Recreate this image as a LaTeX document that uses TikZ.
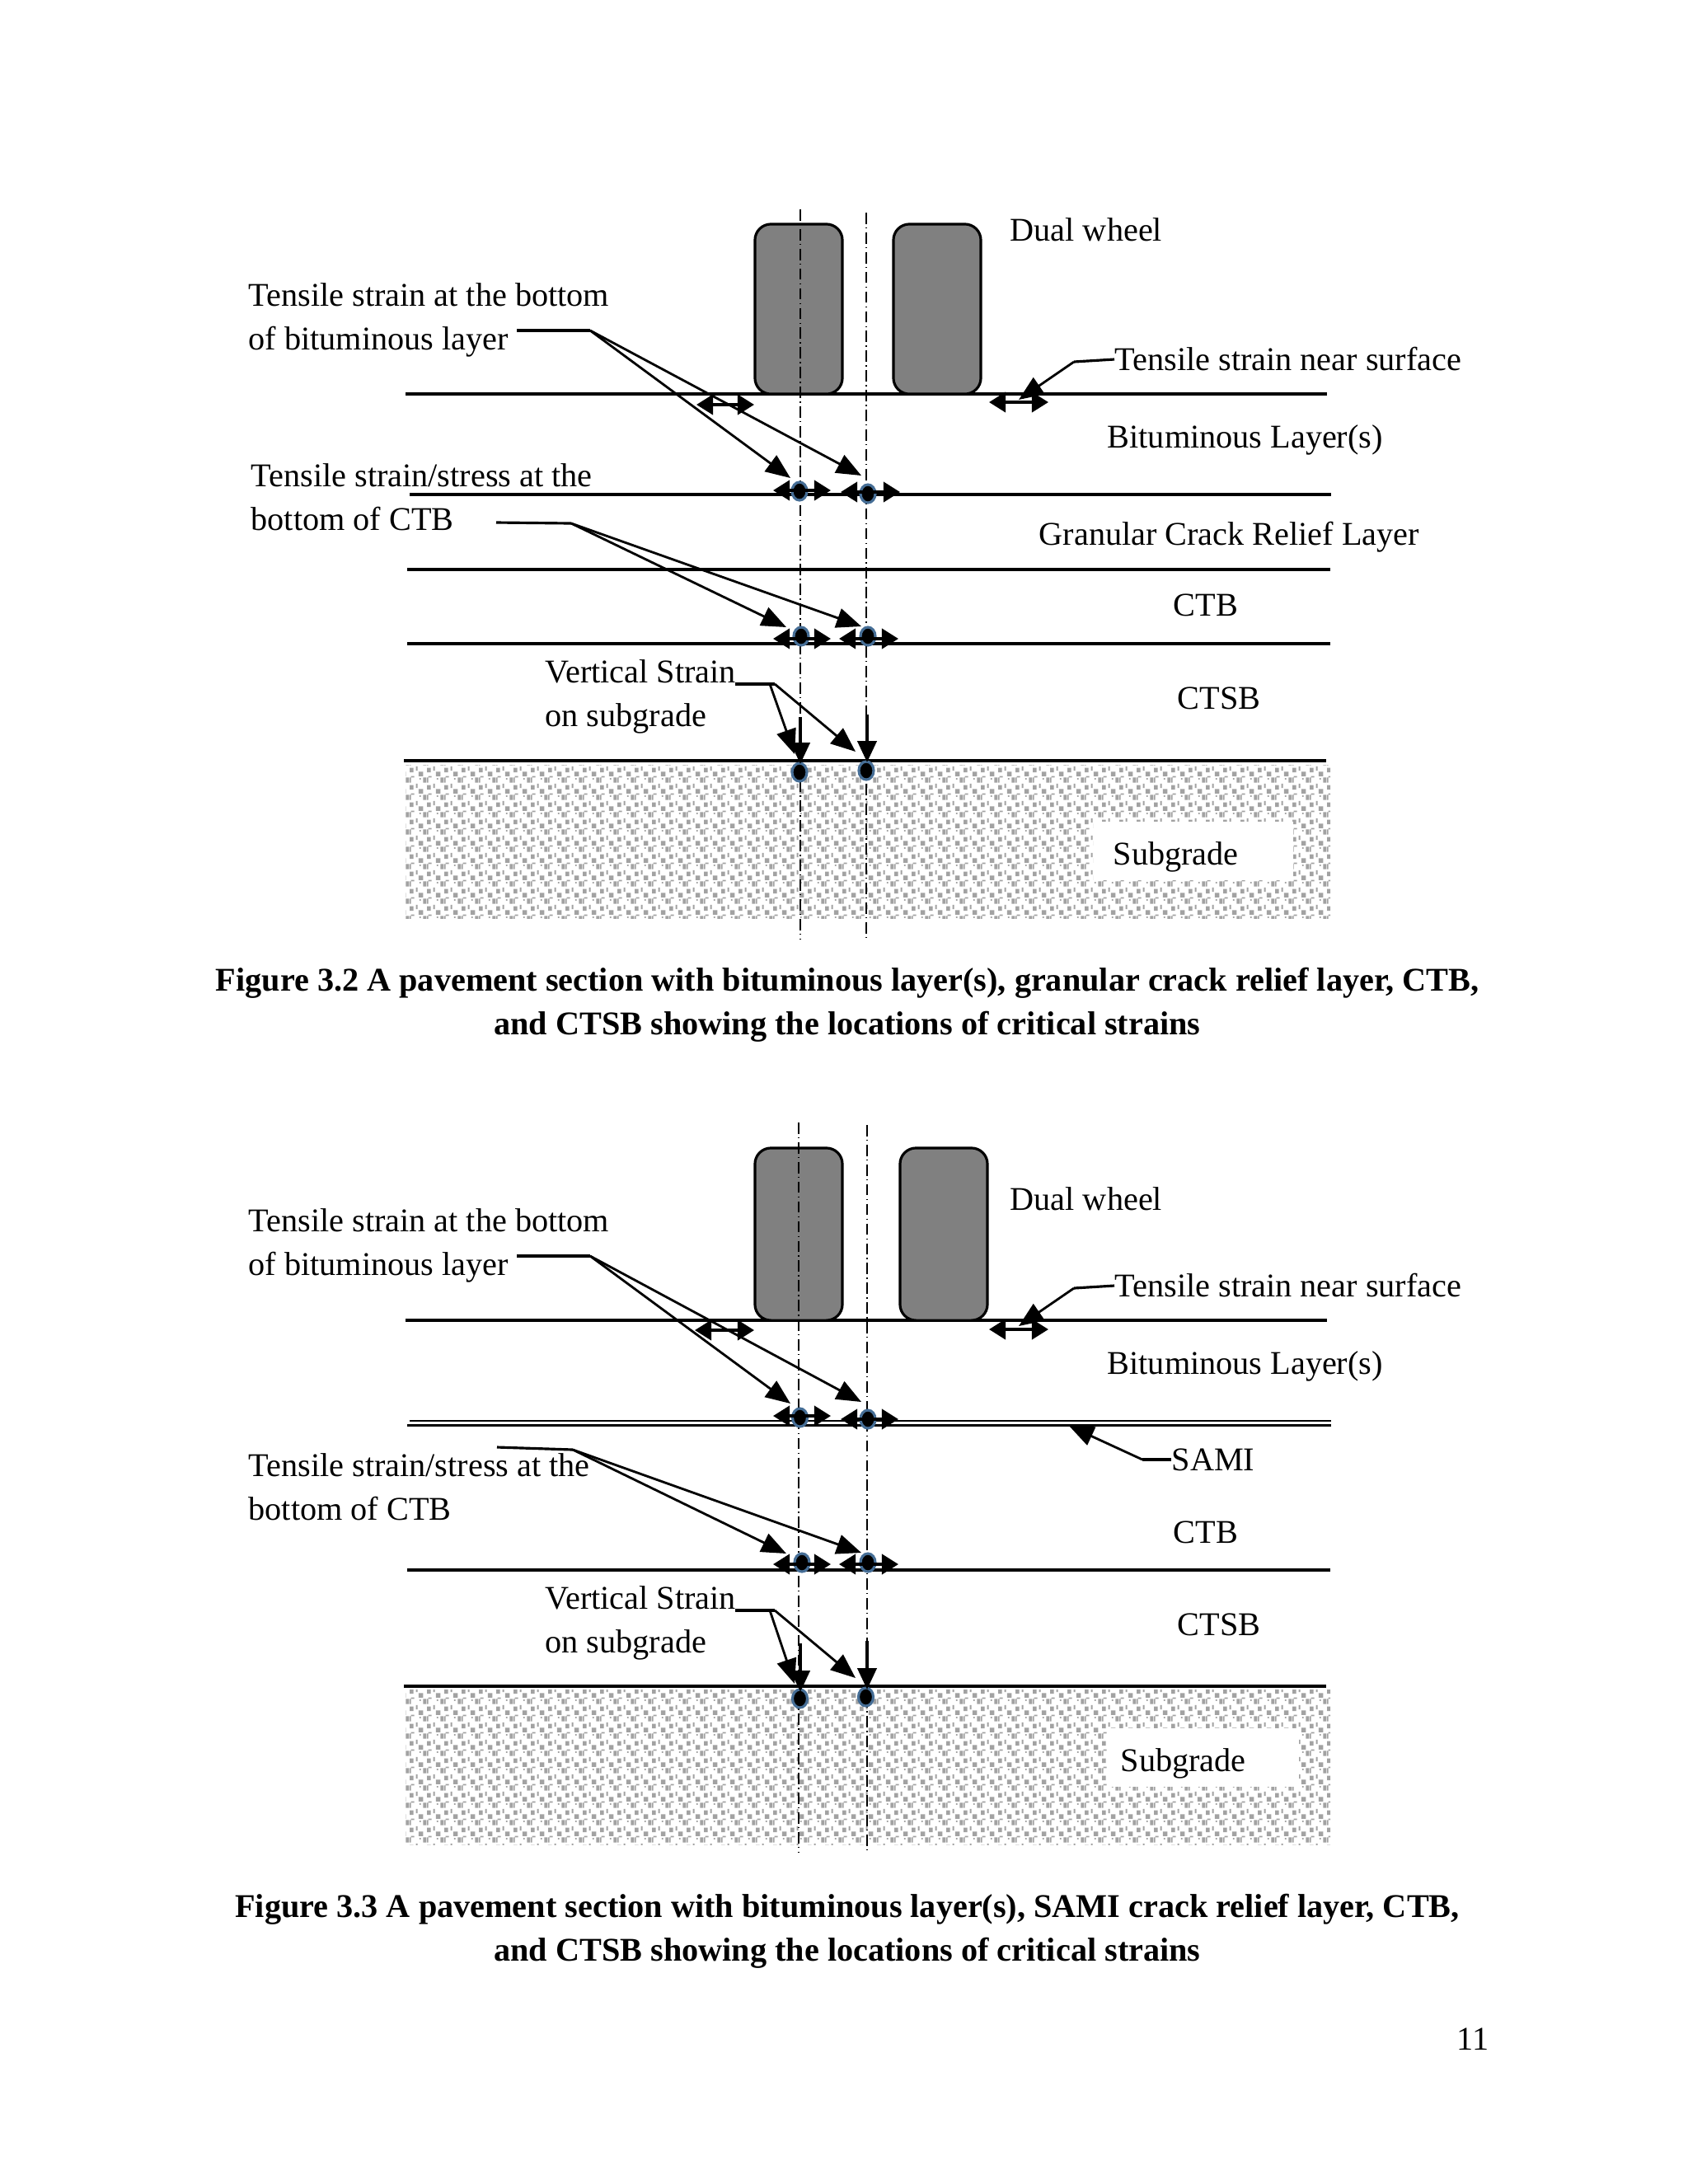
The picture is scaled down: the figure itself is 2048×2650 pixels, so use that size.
\documentclass[tikz,border=0pt]{standalone}
\usepackage{fontspec}
\setmainfont{Liberation Serif}
\usepackage{xcolor}
\usetikzlibrary{arrows.meta,positioning,shapes.geometric,patterns}
\definecolor{wheelgray}{RGB}{128,128,128}
\definecolor{hatchgray}{RGB}{162,162,162}
\definecolor{dotblue}{RGB}{70,110,150}
% one tile of the subgrade texture
\pgfdeclarepatternformonly{subgradetile}{\pgfpointorigin}{\pgfqpoint{5.89pt}{5.89pt}}{\pgfqpoint{5.89pt}{5.89pt}}{%
  \pgfpathrectangle{\pgfqpoint{0pt}{3.7pt}}{\pgfqpoint{1.3pt}{1.6pt}}%
  \pgfpathrectangle{\pgfqpoint{2.2pt}{4.3pt}}{\pgfqpoint{0.55pt}{1.5pt}}%
  \pgfpathrectangle{\pgfqpoint{3.1pt}{2.3pt}}{\pgfqpoint{1.6pt}{1.6pt}}%
  \pgfpathrectangle{\pgfqpoint{3.4pt}{1.2pt}}{\pgfqpoint{0.5pt}{0.5pt}}%
  \pgfpathrectangle{\pgfqpoint{4.7pt}{0.1pt}}{\pgfqpoint{1.19pt}{1.8pt}}%
  \pgfpathrectangle{\pgfqpoint{0pt}{0.1pt}}{\pgfqpoint{0.45pt}{1.8pt}}%
  \pgfpathrectangle{\pgfqpoint{0.45pt}{1.9pt}}{\pgfqpoint{1.2pt}{0.5pt}}%
  \pgfusepath{fill}}

\begin{document}
\begin{tikzpicture}[
  x=0.01cm, y=-0.01cm,
  txt/.style={font=\fontsize{11.44}{15}\selectfont, align=left, inner sep=0pt, anchor=west},
  captxt/.style={font=\fontsize{11.44}{15}\selectfont\bfseries, align=center, inner sep=0pt},
  layer/.style={line width=0.9pt},
  thinlayer/.style={line width=0.8pt},
  axisline/.style={line width=0.35pt, dash pattern=on 3.9pt off 1.2pt on 0.4pt off 1.3pt},
  wheel/.style={draw, line width=0.9pt, fill=wheelgray, rounded corners=5.5pt, inner sep=0pt},
  dot/.style={ellipse, draw=dotblue, line width=0.9pt, fill=black, minimum width=0.18cm, minimum height=0.22cm, inner sep=0pt},
  soil/.style={pattern=subgradetile, pattern color=hatchgray},
  subbox/.style={txt, fill=white, inner xsep=0.24cm, text width=1.94cm, text height=0.43cm, minimum height=0.71cm},
  lead/.style={line width=0.9pt},
  arr/.style={-{Triangle[length=3mm,width=2.4mm]}, line width=0.8pt},
  dbl/.style={{Triangle[length=2mm,width=2.4mm]}-{Triangle[length=2mm,width=2.4mm]}, line width=1.1pt},
  vert/.style={-{Triangle[length=2.6mm,width=2.3mm]}, line width=1.2pt}
]
\useasboundingbox (0,0) rectangle (2048,2650);

% Figure 3.2
\path[soil] (492,928) rectangle (1614,1114);
\node[subbox] (asub) at (1326,1032) {Subgrade};

\coordinate (asurfL) at (492,478);   \coordinate (asurfR) at (1610,478);
\coordinate (abitL) at (497,600);    \coordinate (abitR) at (1615,600);
\coordinate (agranL) at (494,691);   \coordinate (agranR) at (1614,691);
\coordinate (actbL) at (494,781);    \coordinate (actbR) at (1614,781);
\coordinate (asgL) at (490,923);     \coordinate (asgR) at (1609,923);
\draw[layer] (asurfL) -- (asurfR);
\draw[layer] (abitL) -- (abitR);
\draw[layer] (agranL) -- (agranR);
\draw[layer] (actbL) -- (actbR);
\draw[layer] (asgL) -- (asgR);

\node[wheel, minimum height=2.06cm, minimum width=1.06cm] (awheelA) at (969,375) {};
\node[wheel, minimum height=2.06cm, minimum width=1.06cm] (awheelB) at (1137,375) {};

\coordinate (aaxisAt) at (971,254);  \coordinate (aaxisAb) at (971,1140);
\coordinate (aaxisBt) at (1051,258); \coordinate (aaxisBb) at (1051,1138);
\draw[axisline] (aaxisAt) -- (aaxisAb);
\draw[axisline] (aaxisBt) -- (aaxisBb);

\node[dot] (adotA) at (970,596) {};
\node[dot] (adotB) at (1053,599) {};
\node[dot] (adotC) at (972,772) {};
\node[dot] (adotD) at (1053,772) {};
\node[dot] (adotE) at (970,937) {};
\node[dot] (adotF) at (1051,935) {};

\node[txt] (adual) at (1225,279) {Dual wheel};
\node[txt] (anear) at (1352,436) {Tensile strain near surface};
\node[txt] (abit) at (1343,534) {Bituminous Layer(s)};
\node[txt] (agran) at (1260,652) {Granular Crack Relief Layer};
\node[txt] (actb) at (1423,734) {CTB};
\node[txt] (actsb) at (1428,847) {CTSB};
\node[txt] (atbit) at (301,388) {Tensile strain at the bottom\\of bituminous layer};
\node[txt] (atctb) at (304,603) {Tensile strain/stress at the\\bottom of CTB};
\node[txt] (avert) at (661,845) {Vertical Strain\\on subgrade};
\node[captxt] (acap) at (1028,1219) {Figure 3.2 A pavement section with bituminous layer(s), granular crack relief layer, CTB,\\and CTSB showing the locations of critical strains};

% leaders, figure 3.2
\coordinate (al1) at (627,401);  \coordinate (al2) at (716,401);
\coordinate (at1) at (959,580);  \coordinate (at2) at (1045,577);
\draw[lead] (al1) -- (al2);
\draw[arr] (al2) -- (at1);
\draw[arr] (al2) -- (at2);
\coordinate (an1) at (1303,439); \coordinate (an2) at (1236,485);
\draw[lead] (anear.west) -- (an1);
\draw[arr] (an1) -- (an2);
\coordinate (ac1) at (602,634);  \coordinate (ac2) at (693,635);
\coordinate (at3) at (954,761);  \coordinate (at4) at (1045,760);
\draw[lead] (ac1) -- (ac2);
\draw[arr] (ac2) -- (at3);
\draw[arr] (ac2) -- (at4);
\coordinate (av1) at (892,830);  \coordinate (av2) at (940,830);  \coordinate (av3) at (934,830);
\coordinate (at5) at (964,915);  \coordinate (at6) at (1038,912);
\draw[lead] (av1) -- (av2);
\draw[arr] (av3) -- (at5);
\draw[arr] (av2) -- (at6);

% strain arrows, figure 3.2
\coordinate (as1) at (845,491);  \coordinate (as2) at (915,491);
\coordinate (as3) at (1200,488); \coordinate (as4) at (1272,488);
\coordinate (as5) at (938,595);  \coordinate (as6) at (1008,595);
\coordinate (as7) at (1020,597); \coordinate (as8) at (1092,597);
\coordinate (as9) at (938,775);  \coordinate (as10) at (1008,775);
\coordinate (as11) at (1018,775); \coordinate (as12) at (1090,775);
\draw[dbl] (as1) -- (as2);
\draw[dbl] (as3) -- (as4);
\draw[dbl] (as5) -- (as6);
\draw[dbl] (as7) -- (as8);
\draw[dbl] (as9) -- (as10);
\draw[dbl] (as11) -- (as12);
\coordinate (ad1) at (971,870);  \coordinate (ad2) at (971,927);
\coordinate (ad3) at (1052,867); \coordinate (ad4) at (1052,925);
\draw[vert] (ad1) -- (ad2);
\draw[vert] (ad3) -- (ad4);

% Figure 3.3
\path[soil] (492,2050) rectangle (1614,2238);
\node[subbox, inner xsep=0.16cm, text width=2.0cm] (bsub) at (1343,2132) {Subgrade};

\coordinate (bsurfL) at (492,1602);  \coordinate (bsurfR) at (1610,1602);
\coordinate (bsamiL) at (497,1724);  \coordinate (bsamiR) at (1615,1724);
\coordinate (bsamjL) at (494,1729.5);  \coordinate (bsamjR) at (1615,1729.5);
\coordinate (bctbL) at (494,1905);   \coordinate (bctbR) at (1614,1905);
\coordinate (bsgL) at (490,2046);    \coordinate (bsgR) at (1609,2046);
\draw[layer] (bsurfL) -- (bsurfR);
\draw[thinlayer] (bsamiL) -- (bsamiR);
\draw[thinlayer] (bsamjL) -- (bsamjR);
\draw[layer] (bctbL) -- (bctbR);
\draw[layer] (bsgL) -- (bsgR);

\node[wheel, minimum height=2.09cm, minimum width=1.06cm] (bwheelA) at (969,1497.5) {};
\node[wheel, minimum height=2.09cm, minimum width=1.06cm] (bwheelB) at (1145,1497.5) {};

\coordinate (baxisAt) at (969,1362);  \coordinate (baxisAb) at (969,2248);
\coordinate (baxisBt) at (1052,1365); \coordinate (baxisBb) at (1052,2248);
\draw[axisline] (baxisAt) -- (baxisAb);
\draw[axisline] (baxisBt) -- (baxisBb);

\node[dot] (bdotA) at (970.5,1720) {};
\node[dot] (bdotB) at (1053,1722) {};
\node[dot] (bdotC) at (973,1896) {};
\node[dot] (bdotD) at (1053,1896) {};
\node[dot] (bdotE) at (970.5,2061) {};
\node[dot] (bdotF) at (1050.5,2059) {};

\node[txt] (bdual) at (1225,1455) {Dual wheel};
\node[txt] (bnear) at (1352,1560) {Tensile strain near surface};
\node[txt] (bbit) at (1343,1658) {Bituminous Layer(s)};
\node[txt] (bsami) at (1421,1771) {SAMI};
\node[txt] (bctb) at (1423,1859) {CTB};
\node[txt] (bctsb) at (1428,1971) {CTSB};
\node[txt] (btbit) at (301,1511) {Tensile strain at the bottom\\of bituminous layer};
\node[txt] (btctb) at (301,1804) {Tensile strain/stress at the\\bottom of CTB};
\node[txt] (bvert) at (661,1969) {Vertical Strain\\on subgrade};
\node[captxt] (bcap) at (1028,2343) {Figure 3.3 A pavement section with bituminous layer(s), SAMI crack relief layer, CTB,\\and CTSB showing the locations of critical strains};
\node[txt, anchor=east] (bpage) at (1807,2474) {11};

% leaders, figure 3.3
\coordinate (bl1) at (627,1524);  \coordinate (bl2) at (716,1524);
\coordinate (bt1) at (959,1703);  \coordinate (bt2) at (1045,1701);
\draw[lead] (bl1) -- (bl2);
\draw[arr] (bl2) -- (bt1);
\draw[arr] (bl2) -- (bt2);
\coordinate (bn1) at (1303,1563); \coordinate (bn2) at (1236,1609);
\draw[lead] (bnear.west) -- (bn1);
\draw[arr] (bn1) -- (bn2);
\coordinate (bm1) at (1386,1771); \coordinate (bm2) at (1297,1730);
\draw[lead] (bsami.west) -- (bm1);
\draw[arr] (bm1) -- (bm2);
\coordinate (bc1) at (603,1756);  \coordinate (bc2) at (695,1759);
\coordinate (bt3) at (954,1885);  \coordinate (bt4) at (1045,1884);
\draw[lead] (bc1) -- (bc2);
\draw[arr] (bc2) -- (bt3);
\draw[arr] (bc2) -- (bt4);
\coordinate (bv1) at (892,1954);  \coordinate (bv2) at (940,1954);  \coordinate (bv3) at (934,1954);
\coordinate (bt5) at (964,2043);  \coordinate (bt6) at (1038,2036);
\draw[lead] (bv1) -- (bv2);
\draw[arr] (bv3) -- (bt5);
\draw[arr] (bv2) -- (bt6);

% strain arrows, figure 3.3
\coordinate (bs1) at (843,1614);  \coordinate (bs2) at (915,1614);
\coordinate (bs3) at (1200,1613); \coordinate (bs4) at (1272,1613);
\coordinate (bs5) at (938,1718);  \coordinate (bs6) at (1008,1718);
\coordinate (bs7) at (1020,1722); \coordinate (bs8) at (1090,1722);
\coordinate (bs9) at (938,1898);  \coordinate (bs10) at (1008,1898);
\coordinate (bs11) at (1018,1898); \coordinate (bs12) at (1090,1898);
\draw[dbl] (bs1) -- (bs2);
\draw[dbl] (bs3) -- (bs4);
\draw[dbl] (bs5) -- (bs6);
\draw[dbl] (bs7) -- (bs8);
\draw[dbl] (bs9) -- (bs10);
\draw[dbl] (bs11) -- (bs12);
\coordinate (bd1) at (971,1994);  \coordinate (bd2) at (971,2053);
\coordinate (bd3) at (1052,1991); \coordinate (bd4) at (1052,2050);
\draw[vert] (bd1) -- (bd2);
\draw[vert] (bd3) -- (bd4);
\end{tikzpicture}
\end{document}
